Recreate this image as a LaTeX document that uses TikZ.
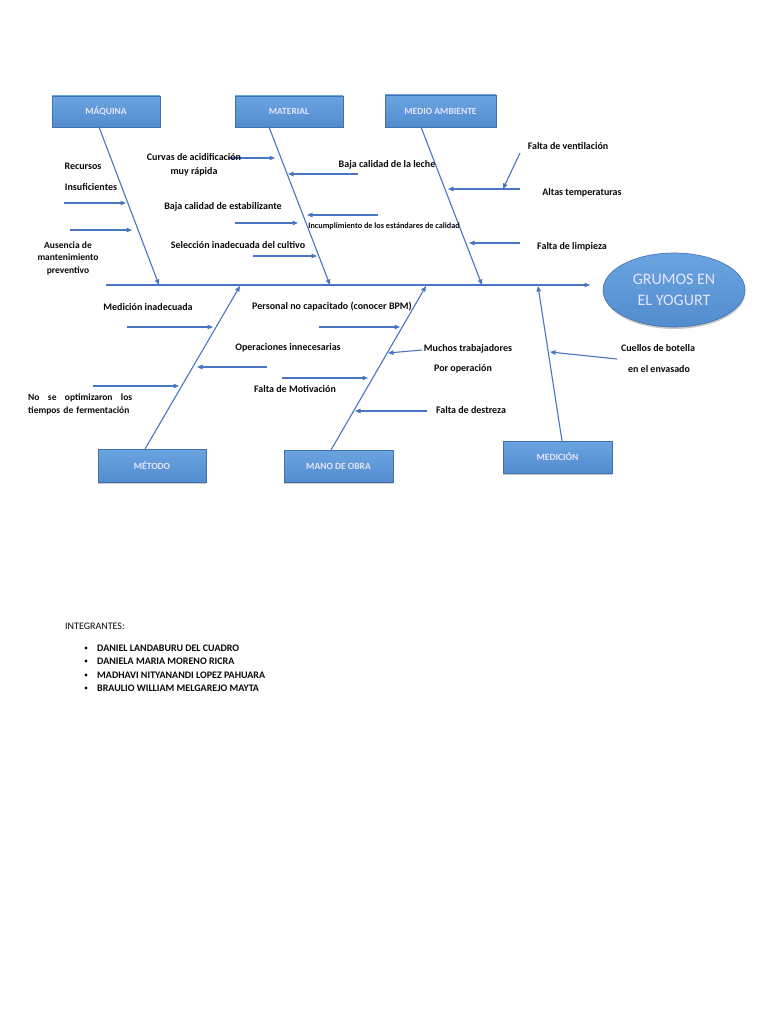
\documentclass[tikz,border=0pt]{standalone}
\usepackage{fontspec}
\setmainfont{Carlito}
\usetikzlibrary{arrows.meta,shapes.geometric,shadows}
\definecolor{ln}{RGB}{72,118,196}
\definecolor{bxt}{RGB}{106,164,224}
\definecolor{bxb}{RGB}{82,140,206}
\definecolor{bxd}{RGB}{66,112,176}
\definecolor{txt}{RGB}{10,10,10}
\tikzset{
  cat/.style={draw=bxd, line width=0.6pt, top color=bxt, bottom color=bxb, inner sep=0pt,
    text=white!90!blue, font=\fontsize{9.5}{10}\selectfont\bfseries,
    drop shadow={shadow xshift=0pt, shadow yshift=-1.5pt, opacity=0.35, fill=black!60}},
  lbl/.style={font=\fontsize{10}{11}\selectfont\bfseries, text=txt, inner sep=0pt},
  small/.style={font=\fontsize{8.2}{9}\selectfont\bfseries, text=txt, inner sep=0pt},
  bone/.style={draw=ln, line width=1.1pt, -{Triangle[length=5.5pt,width=4.5pt]}},
  sub/.style={draw=ln, line width=1.1pt, -{Triangle[length=5.5pt,width=4.5pt]}},
  team/.style={font=\fontsize{10}{11}\selectfont\bfseries, text=txt, inner sep=0pt, anchor=west}
}
\begin{document}
\begin{tikzpicture}[x=1pt,y=-1pt]
\useasboundingbox[fill=white] (0,0) rectangle (768,1024);

% category boxes
\node[cat, minimum width=108pt, minimum height=31pt] (maq) at (106,111.5) {MÁQUINA};
\node[cat, minimum width=108pt, minimum height=31pt] (mat) at (289,111.5) {MATERIAL};
\node[cat, minimum width=111pt, minimum height=32pt] (med) at (440.5,111) {MEDIO AMBIENTE};
\node[cat, minimum width=108pt, minimum height=33pt] (met) at (152,465.5) {MÉTODO};
\node[cat, minimum width=109pt, minimum height=32pt] (mano) at (338.5,466) {MANO DE OBRA};
\node[cat, minimum width=109pt, minimum height=32pt] (medi) at (557.5,457) {MEDICIÓN};

% effect
\node[ellipse, draw=bxd, line width=0.6pt, top color=bxt, bottom color=bxb,
  minimum width=142pt, minimum height=74pt, inner sep=0pt, align=center,
  text=white!90!blue, font=\fontsize{16}{21}\selectfont,
  drop shadow={shadow xshift=0.5pt, shadow yshift=-2pt, opacity=0.35, fill=black!60}]
  (eff) at (674,290) {GRUMOS EN\\EL YOGURT};

% spine
\coordinate (sp0) at (106,285);
\coordinate (sp1) at (590,285);
\draw[bone] (sp0) -- (sp1);

% bones
\coordinate (b1s) at (99,127);   \coordinate (b1e) at (159,285);
\coordinate (b2s) at (269,127);  \coordinate (b2e) at (330,285);
\coordinate (b3s) at (421,127);  \coordinate (b3e) at (482,285);
\coordinate (b4s) at (145,449);  \coordinate (b4e) at (240,286);
\coordinate (b5s) at (331,450);  \coordinate (b5e) at (426,286);
\coordinate (b6s) at (562,441);  \coordinate (b6e) at (538,286);
\draw[bone] (b1s) -- (b1e);
\draw[bone] (b2s) -- (b2e);
\draw[bone] (b3s) -- (b3e);
\draw[bone] (b4s) -- (b4e);
\draw[bone] (b5s) -- (b5e);
\draw[bone] (b6s) -- (b6e);

% MAQUINA causes
\node[lbl] (l1) at (83,166) {Recursos};
\node[lbl] (l2) at (91,187) {Insuficientes};
\node[lbl, align=center, font=\fontsize{9.5}{12.5}\selectfont\bfseries] (l3) at (68,258) {Ausencia de\\mantenimiento\\preventivo};
\coordinate (a1s) at (64,203);  \coordinate (a1e) at (126,203);
\coordinate (a2s) at (70,230);  \coordinate (a2e) at (132,230);
\draw[sub] (a1s) -- (a1e);
\draw[sub] (a2s) -- (a2e);

% MATERIAL causes
\coordinate (a3s) at (228,158);  \coordinate (a3e) at (275,158);
\draw[sub] (a3s) -- (a3e);
\node[lbl, align=center, font=\fontsize{10}{14}\selectfont\bfseries] (l4) at (194,165) {Curvas de acidificación\\muy rápida};
\node[lbl] (l5) at (387,165) {Baja calidad de la leche};
\coordinate (a4s) at (358,174);  \coordinate (a4e) at (288,174);
\draw[sub] (a4s) -- (a4e);
\node[lbl] (l6) at (223,207) {Baja calidad de estabilizante};
\coordinate (a5s) at (235,223);  \coordinate (a5e) at (298,223);
\draw[sub] (a5s) -- (a5e);
\node[small] (l7) at (384,226) {Incumplimiento de los estándares de calidad};
\coordinate (a6s) at (378,215);  \coordinate (a6e) at (307,215);
\draw[sub] (a6s) -- (a6e);
\node[lbl] (l8) at (238,245) {Selección inadecuada del cultivo};
\coordinate (a7s) at (253,256);  \coordinate (a7e) at (317,256);
\draw[sub] (a7s) -- (a7e);

% MEDIO AMBIENTE causes
\node[lbl] (l9) at (568,146) {Falta de ventilación};
\coordinate (a8s) at (520,153);  \coordinate (a8e) at (503,189);
\draw[sub] (a8s) -- (a8e);
\node[lbl] (l10) at (582,193) {Altas temperaturas};
\coordinate (a9s) at (520,189);  \coordinate (a9e) at (448,189);
\draw[sub] (a9s) -- (a9e);
\node[lbl] (l11) at (572,247) {Falta de limpieza};
\coordinate (a10s) at (520,243);  \coordinate (a10e) at (469,243);
\draw[sub] (a10s) -- (a10e);

% METODO causes
\node[lbl] (l12) at (148,307) {Medición inadecuada};
\coordinate (a11s) at (127,327);  \coordinate (a11e) at (213,327);
\draw[sub] (a11s) -- (a11e);
\node[lbl] (l13) at (288,348) {Operaciones innecesarias};
\coordinate (a12s) at (267,367);  \coordinate (a12e) at (197,367);
\draw[sub] (a12s) -- (a12e);
\node[lbl, text width=104pt, align=left, font=\fontsize{9.5}{13}\selectfont\bfseries, anchor=north west] (l14) at (28,394)
  {\hbox to 104pt{No\hfill se\hfill optimizaron\hfill los}\\tiempos de fermentación};
\coordinate (a13s) at (93,386);  \coordinate (a13e) at (179,386);
\draw[sub] (a13s) -- (a13e);
\node[lbl] (l15) at (295,389) {Falta de Motivación};
\coordinate (a14s) at (282,378);  \coordinate (a14e) at (368,378);
\draw[sub] (a14s) -- (a14e);

% MANO DE OBRA causes
\node[lbl] (l16) at (332,307) {Personal no capacitado (conocer BPM)};
\coordinate (a15s) at (319,327);  \coordinate (a15e) at (400,327);
\draw[sub] (a15s) -- (a15e);
\node[lbl] (l17) at (468,349) {Muchos trabajadores};
\node[lbl] (l18) at (463,369) {Por operación};
\coordinate (a16s) at (422,350);  \coordinate (a16e) at (388,353);
\draw[sub] (a16s) -- (a16e);
\node[lbl] (l19) at (471,410) {Falta de destreza};
\coordinate (a17s) at (427,411);  \coordinate (a17e) at (355,411);
\draw[sub] (a17s) -- (a17e);

% MEDICION causes
\node[lbl] (l20) at (658,348) {Cuellos de botella};
\node[lbl] (l21) at (659,369) {en el envasado};
\coordinate (a18s) at (617,359);  \coordinate (a18e) at (550,352);
\draw[sub] (a18s) -- (a18e);

% team
\node[team, font=\fontsize{10}{11}\selectfont] (int) at (65,626) {INTEGRANTES:};
\node[team] (p1) at (97,648) {DANIEL LANDABURU DEL CUADRO};
\node[team] (p2) at (97,661) {DANIELA MARIA MORENO RICRA};
\node[team] (p3) at (97,675) {MADHAVI NITYANANDI LOPEZ PAHUARA};
\node[team] (p4) at (97,688) {BRAULIO WILLIAM MELGAREJO MAYTA};
\foreach \n in {p1,p2,p3,p4}{
  \fill[txt] ([xshift=-11pt]\n.west) circle (1.7pt);
}
\end{tikzpicture}
\end{document}
